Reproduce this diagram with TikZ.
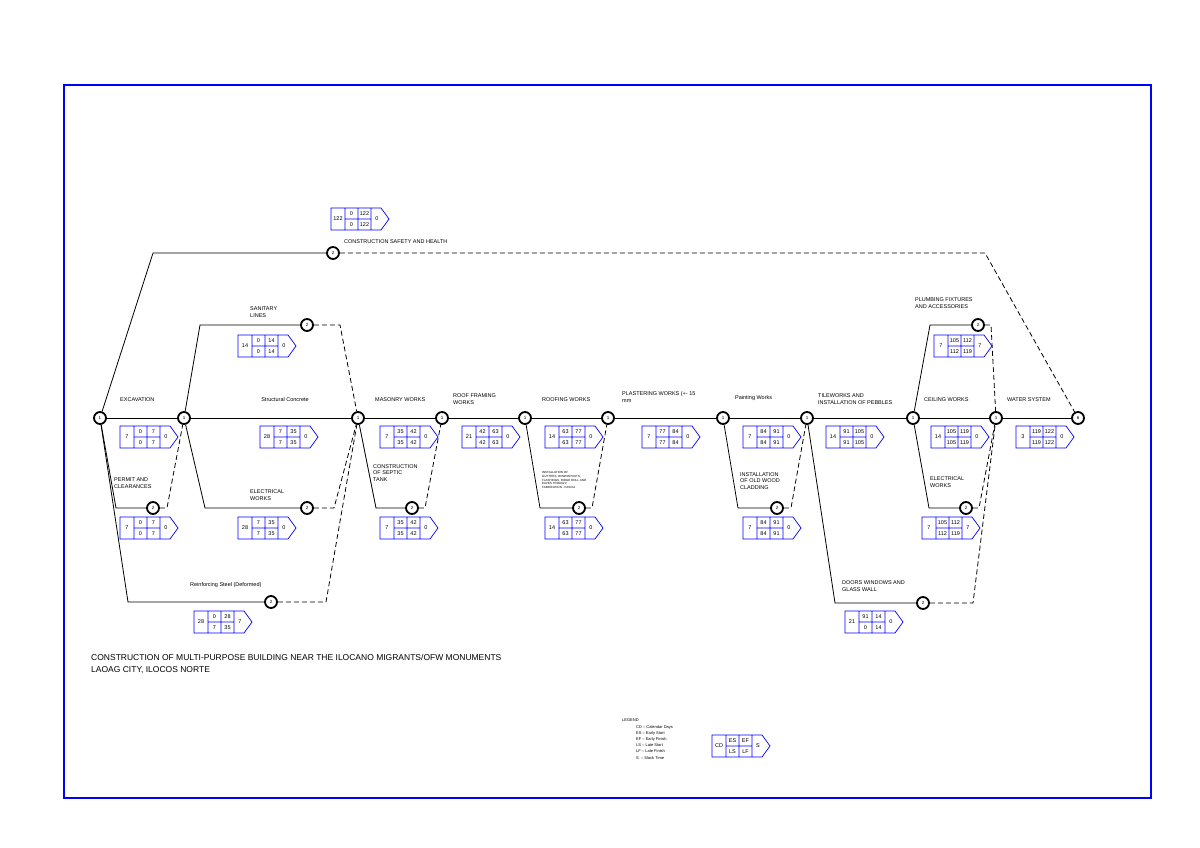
\documentclass[tikz,border=0pt]{standalone}
\usepackage{fontspec}
\setmainfont{Liberation Sans}
\begin{document}
\begin{tikzpicture}[x=1pt,y=-1pt,
  ev/.style={circle,draw=black,line width=1.8pt,fill=white,inner sep=0pt,minimum size=12pt,font=\fontsize{4.5}{5}\selectfont},
  act/.style={line width=0.8pt},
  dum/.style={line width=0.8pt,dash pattern=on 5pt off 3pt},
  lbl/.style={font=\fontsize{5.5}{6.5}\selectfont,align=left,anchor=west,inner sep=0pt},
  bx/.style={draw=blue,line width=0.7pt},
  bt/.style={font=\fontsize{5.5}{6}\selectfont,inner sep=0pt}]
\useasboundingbox (0,0) rectangle (1200,848);
\draw[blue,line width=2.2pt] (64,85) rectangle (1151,798);
\newcommand\ibox[7]{\begin{scope}[shift={#1}]
 \draw[bx] (0,0) rectangle (40,22) (14,0)--(14,22) (27,0)--(27,22) (14,11)--(40,11)
   (40,0)--(50,0)--(58,11)--(50,22)--(40,22);
 \node[bt] at (7,11){#2}; \node[bt] at (20.5,5.5){#3}; \node[bt] at (33.5,5.5){#4};
 \node[bt] at (20.5,16.5){#5}; \node[bt] at (33.5,16.5){#6}; \node[bt] at (46,11){#7};
\end{scope}}
% events
\node[ev] (n1) at (100,418){1};
\node[ev] (n2) at (184,418){1};
\node[ev] (n3) at (358,418){1};
\node[ev] (n4) at (442,418){1};
\node[ev] (n5) at (525,418){1};
\node[ev] (n6) at (608,418){1};
\node[ev] (n7) at (723,418){1};
\node[ev] (n8) at (807,418){1};
\node[ev] (n9) at (913,418){1};
\node[ev] (n10) at (996,418){1};
\node[ev] (n11) at (1078,418){6};
\node[ev] (s1) at (333,253){2};
\node[ev] (s2) at (307,325){2};
\node[ev] (s3) at (153,508){2};
\node[ev] (s4) at (307,508){2};
\node[ev] (s5) at (271,602){2};
\node[ev] (s6) at (412,508){2};
\node[ev] (s7) at (579,508){2};
\node[ev] (s8) at (777,508){2};
\node[ev] (s9) at (923,603){2};
\node[ev] (s10) at (978,325){2};
\node[ev] (s11) at (966,508){2};
% main line
\foreach \a/\b in {n1/n2,n2/n3,n3/n4,n4/n5,n5/n6,n6/n7,n7/n8,n8/n9,n9/n10,n10/n11}
  \draw[act] (\a)--(\b);
% branches
\draw[act] (n1)--(153,253)--(s1); \draw[dum] (s1)--(985,253)--(n11);
\draw[act] (n2)--(200,325)--(s2); \draw[dum] (s2)--(340,325)--(n3);
\draw[act] (n1)--(116,508)--(s3); \draw[dum] (s3)--(167,508)--(n2);
\draw[act] (n1)--(128,602)--(s5); \draw[dum] (s5)--(326,602)--(n3);
\draw[act] (n2)--(205,508)--(s4); \draw[dum] (s4)--(334,508)--(n3);
\draw[act] (n3)--(376,508)--(s6); \draw[dum] (s6)--(425,508)--(n4);
\draw[act] (n5)--(540,508)--(s7); \draw[dum] (s7)--(592,508)--(n6);
\draw[act] (n7)--(738,508)--(s8); \draw[dum] (s8)--(791,508)--(n8);
\draw[act] (n8)--(835,603)--(s9); \draw[dum] (s9)--(973,603)--(n10);
\draw[act] (n9)--(930,325)--(s10); \draw[dum] (s10)--(991,325)--(n10);
\draw[act] (n9)--(929,508)--(s11); \draw[dum] (s11)--(979,508)--(n10);
% info boxes
\ibox{(331,208)}{122}{0}{122}{0}{122}{0}
\ibox{(238,335)}{14}{0}{14}{0}{14}{0}
\ibox{(120,426)}{7}{0}{7}{0}{7}{0}
\ibox{(260,426)}{28}{7}{35}{7}{35}{0}
\ibox{(380,426)}{7}{35}{42}{35}{42}{0}
\ibox{(462,426)}{21}{42}{63}{42}{63}{0}
\ibox{(545,426)}{14}{63}{77}{63}{77}{0}
\ibox{(642,426)}{7}{77}{84}{77}{84}{0}
\ibox{(743,426)}{7}{84}{91}{84}{91}{0}
\ibox{(826,426)}{14}{91}{105}{91}{105}{0}
\ibox{(931,426)}{14}{105}{119}{105}{119}{0}
\ibox{(1016,426)}{3}{119}{122}{119}{122}{0}
\ibox{(120,517)}{7}{0}{7}{0}{7}{0}
\ibox{(238,517)}{28}{7}{35}{7}{35}{0}
\ibox{(380,517)}{7}{35}{42}{35}{42}{0}
\ibox{(545,517)}{14}{63}{77}{63}{77}{0}
\ibox{(743,517)}{7}{84}{91}{84}{91}{0}
\ibox{(194,611)}{28}{0}{28}{7}{35}{7}
\ibox{(934,335)}{7}{105}{112}{112}{119}{7}
\ibox{(922,517)}{7}{105}{112}{112}{119}{7}
\ibox{(845,611)}{21}{91}{14}{0}{14}{0}
\ibox{(712,735)}{CD}{ES}{EF}{LS}{LF}{S}
% labels
\node[lbl] (l1) at (120,400){EXCAVATION};
\node[lbl,anchor=center] (l2) at (285,400){Structural Concrete};
\node[lbl] (l3) at (375,400){MASONRY WORKS};
\node[lbl] (l4) at (453,399){ROOF FRAMING\\WORKS};
\node[lbl] (l5) at (542,400){ROOFING WORKS};
\node[lbl] (l6) at (622,397){PLASTERING WORKS (+- 15\\mm};
\node[lbl] (l7) at (735,398){Painting Works};
\node[lbl] (l8) at (818,399){TILEWORKS AND\\INSTALLATION OF PEBBLES};
\node[lbl] (l9) at (924,400){CEILING WORKS};
\node[lbl] (l10) at (1007,400){WATER SYSTEM};
\node[lbl] (l11) at (344,242){CONSTRUCTION SAFETY AND HEALTH};
\node[lbl] (l12) at (250,312){SANITARY\\LINES};
\node[lbl] (l13) at (114,483){PERMIT AND\\CLEARANCES};
\node[lbl] (l14) at (250,495){ELECTRICAL\\WORKS};
\node[lbl] (l15) at (373,473){CONSTRUCTION\\OF SEPTIC\\TANK};
\node[lbl] (l16) at (190,585){Reinforcing Steel (Deformed)};
\node[lbl] (l17) at (740,481){INSTALLATION\\OF OLD WOOD\\CLADDING};
\node[lbl] (l18) at (915,303){PLUMBING FIXTURES\\AND ACCESSORIES};
\node[lbl] (l19) at (930,482){ELECTRICAL\\WORKS};
\node[lbl] (l20) at (842,586){DOORS  WINDOWS AND\\GLASS WALL};
\node[lbl,font=\fontsize{3}{3.6}\selectfont] (l21) at (542,480){INSTALLATION OF\\GUTTERS, DOWNSPOUTS,\\FLASHINGS, RIDGE ROLL AND\\EAVES TROUGH/\\ FABRICATION - FASCIA};
\node[lbl,font=\fontsize{8.5}{12}\selectfont] (t1) at (91,664){CONSTRUCTION OF MULTI-PURPOSE BUILDING NEAR THE ILOCANO MIGRANTS/OFW MONUMENTS\\LAOAG CITY, ILOCOS NORTE};
\node[lbl,font=\fontsize{4}{6.2}\selectfont,anchor=north west] (lg) at (622,719){LEGEND\\
\hspace*{14pt}CD -- Calendar Days\\\hspace*{14pt}ES -- Early Start\\\hspace*{14pt}EF -- Early Finish\\
\hspace*{14pt}LS -- Late Start\\\hspace*{14pt}LF -- Late Finish\\\hspace*{14pt}S \ -- Slack Time};
\end{tikzpicture}
\end{document}
